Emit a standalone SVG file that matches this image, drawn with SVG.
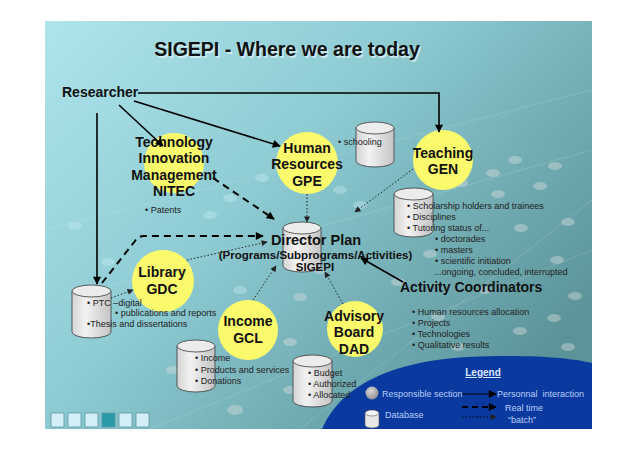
<svg xmlns="http://www.w3.org/2000/svg" width="638" height="451" viewBox="0 0 638 451">
<defs>
<linearGradient id="bg" x1="0" y1="0" x2="1" y2="0.7">
<stop offset="0" stop-color="#afe4eb"/>
<stop offset="0.45" stop-color="#8ecbd3"/>
<stop offset="1" stop-color="#5b9399"/>
</linearGradient>
<linearGradient id="cyl" x1="0" y1="0" x2="1" y2="0">
<stop offset="0" stop-color="#d4d4d4"/>
<stop offset="0.35" stop-color="#f2f2f2"/>
<stop offset="1" stop-color="#c4c4c4"/>
</linearGradient>
<radialGradient id="gdot" cx="0.4" cy="0.35" r="0.7">
<stop offset="0" stop-color="#d8d8d8"/>
<stop offset="1" stop-color="#8e8e8e"/>
</radialGradient>
<marker id="ah" viewBox="0 0 10 10" refX="9" refY="5" markerWidth="9" markerHeight="8" orient="auto" markerUnits="userSpaceOnUse">
<path d="M0,0 L10,5 L0,10 z" fill="#000"/>
</marker>
<marker id="ahs" viewBox="0 0 10 10" refX="9" refY="5" markerWidth="7" markerHeight="6" orient="auto" markerUnits="userSpaceOnUse">
<path d="M0,0 L10,5 L0,10 z" fill="#222"/>
</marker>
<style>
text{font-family:"Liberation Sans",Arial,sans-serif;fill:#111}
.lbl{font-size:14px;font-weight:bold;text-anchor:middle}
.sm{font-size:9px;fill:#222}
.yc{fill:#fbfa6c}
.cb{fill:url(#cyl);stroke:#3a3a3a;stroke-width:0.8}
.ct{fill:#ececec;stroke:#3a3a3a;stroke-width:0.8}
.solid{fill:none;stroke:#000;stroke-width:1.6;marker-end:url(#ah)}
.dash{fill:none;stroke:#000;stroke-width:2;stroke-dasharray:7,5;marker-end:url(#ah)}
.dot{fill:none;stroke:#222;stroke-width:1;stroke-dasharray:1.5,2;marker-end:url(#ahs)}
.deco{fill:#d9dede;opacity:0.42}
.decob{fill:#c6eef2;opacity:0.4}
.lg{font-size:9px;fill:#b9cdf5}
.nav{fill:#d4eef8;stroke:#5a9aa8;stroke-width:0.8}
</style>
</defs>

<rect x="0" y="0" width="638" height="451" fill="#fff"/>
<rect x="45" y="21" width="547" height="408" fill="url(#bg)"/>

<g id="decoration" stroke="none">
<g stroke="#e8f6f8" stroke-width="0.8" opacity="0.2" fill="none">
<path d="M60,300 L592,150"/>
<path d="M150,429 L592,250"/>
<path d="M45,230 L592,90"/>
<path d="M300,429 L592,200"/>
</g>
<ellipse class="decob" cx="108" cy="262" rx="7" ry="4"/>
<ellipse class="decob" cx="75" cy="226" rx="7" ry="4"/>
<ellipse class="decob" cx="210" cy="215" rx="7" ry="4"/>
<ellipse class="decob" cx="240" cy="290" rx="7" ry="4"/>
<ellipse class="decob" cx="262" cy="178" rx="7" ry="4"/>
<ellipse class="decob" cx="230" cy="198" rx="7" ry="4"/>
<ellipse class="decob" cx="340" cy="190" rx="7" ry="4"/>
<ellipse class="decob" cx="360" cy="205" rx="7" ry="4"/>
<ellipse class="deco" cx="300" cy="297" rx="7" ry="4"/>
<ellipse class="deco" cx="320" cy="270" rx="7" ry="4"/>
<ellipse class="deco" cx="430" cy="254" rx="7" ry="4"/>
<ellipse class="deco" cx="398" cy="282" rx="7" ry="4"/>
<ellipse class="deco" cx="461" cy="183" rx="7" ry="4"/>
<ellipse class="deco" cx="493" cy="173" rx="7" ry="4"/>
<ellipse class="deco" cx="515" cy="160" rx="7" ry="4"/>
<ellipse class="deco" cx="555" cy="166" rx="7" ry="4"/>
<ellipse class="deco" cx="540" cy="186" rx="7" ry="4"/>
<ellipse class="deco" cx="498" cy="194" rx="7" ry="4"/>
<ellipse class="deco" cx="521" cy="228" rx="7" ry="4"/>
<ellipse class="deco" cx="568" cy="222" rx="7" ry="4"/>
<ellipse class="deco" cx="557" cy="260" rx="7" ry="4"/>
<ellipse class="deco" cx="575" cy="296" rx="7" ry="4"/>
<ellipse class="deco" cx="554" cy="318" rx="7" ry="4"/>
<ellipse class="deco" cx="520" cy="331" rx="7" ry="4"/>
<ellipse class="deco" cx="568" cy="347" rx="7" ry="4"/>
<ellipse class="deco" cx="458" cy="347" rx="7" ry="4"/>
<ellipse class="deco" cx="438" cy="317" rx="7" ry="4"/>
<ellipse class="deco" cx="485" cy="290" rx="7" ry="4"/>
<ellipse class="deco" cx="290" cy="342" rx="7" ry="4"/>
<ellipse class="deco" cx="235" cy="410" rx="8" ry="5"/>
<ellipse class="deco" cx="290" cy="390" rx="7" ry="4"/>
<ellipse class="deco" cx="173" cy="370" rx="7" ry="4"/>
</g>

<g id="title">
<text x="288.5" y="57.5" font-size="19.5" font-weight="bold" text-anchor="middle" style="fill:#e6f6f8;opacity:0.7">SIGEPI - Where we are today</text>
<text x="287" y="56" font-size="19.5" font-weight="bold" text-anchor="middle">SIGEPI - Where we are today</text>
</g>

<g id="researcher">
<text x="62" y="97" font-size="14" font-weight="bold">Researcher</text>
</g>

<g id="legend-area">
<path d="M322,429 C338,392 380,362 468,357 C530,354 572,358 592,363 L592,429 Z" fill="#0a3aa0"/>
</g>

<g id="tech">
<circle class="yc" cx="174" cy="163" r="30"/>
<text class="lbl" x="174" y="147">Technology</text>
<text class="lbl" x="174" y="163">Innovation</text>
<text class="lbl" x="174" y="180">Management</text>
<text class="lbl" x="174" y="196">NITEC</text>
<text class="sm" x="145" y="213">• Patents</text>
</g>

<g id="hr">
<circle class="yc" cx="307" cy="163" r="31"/>
<text class="lbl" x="307" y="153">Human</text>
<text class="lbl" x="307" y="169">Resources</text>
<text class="lbl" x="307" y="186">GPE</text>
</g>

<g id="db-schooling">
<path class="cb" d="M356,128 V161 A19,6 0 0 0 394,161 V128 Z"/>
<ellipse class="ct" cx="375" cy="128" rx="19" ry="6"/>
<text class="sm" x="338" y="145">• schooling</text>
</g>

<g id="teaching">
<circle class="yc" cx="443" cy="160" r="30"/>
<text class="lbl" x="443" y="158">Teaching</text>
<text class="lbl" x="443" y="174">GEN</text>
</g>

<g id="db-scholarship">
<path class="cb" d="M394,194 V231 A19.5,6 0 0 0 433,231 V194 Z"/>
<ellipse class="ct" cx="413.5" cy="194" rx="19.5" ry="6"/>
<text class="sm" x="407" y="209">• Scholarship holders and trainees</text>
<text class="sm" x="407" y="220">• Disciplines</text>
<text class="sm" x="407" y="231">• Tutoring status of...</text>
<text class="sm" x="435" y="242">• doctorades</text>
<text class="sm" x="435" y="253">• masters</text>
<text class="sm" x="435" y="264">• scientific initiation</text>
<text class="sm" x="434" y="275">...ongoing, concluded, interrupted</text>
</g>

<g id="director">
<path class="cb" d="M283,228 V266 A19,6 0 0 0 321,266 V228 Z"/>
<ellipse class="ct" cx="302" cy="228" rx="19" ry="6"/>
<text x="316" y="245" font-size="14.5" font-weight="bold" text-anchor="middle">Director Plan</text>
<text x="315.5" y="259" font-size="11.5" font-weight="bold" text-anchor="middle">(Programs/Subprograms/Activities)</text>
<text x="315" y="271" font-size="11.5" font-weight="bold" text-anchor="middle">SIGEPI</text>
</g>

<g id="activity">
<text x="400" y="292" font-size="14" font-weight="bold">Activity Coordinators</text>
<text class="sm" x="412" y="315">• Human resources allocation</text>
<text class="sm" x="412" y="326">• Projects</text>
<text class="sm" x="412" y="337">• Technologies</text>
<text class="sm" x="412" y="348">• Qualitative results</text>
</g>

<g id="library">
<circle class="yc" cx="163" cy="281" r="31"/>
<text class="lbl" x="162" y="277">Library</text>
<text class="lbl" x="162" y="294">GDC</text>
</g>

<g id="db-ptc">
<path class="cb" d="M72,291 V332 A19.5,6 0 0 0 111,332 V291 Z"/>
<ellipse class="ct" cx="91.5" cy="291" rx="19.5" ry="6"/>
<text class="sm" x="87" y="306">• PTC –digital</text>
<text class="sm" x="115" y="316">• publications and reports</text>
<text class="sm" x="87" y="327">•Thesis and dissertations</text>
</g>

<g id="income">
<circle class="yc" cx="248" cy="330" r="30"/>
<text class="lbl" x="248" y="326">Income</text>
<text class="lbl" x="248" y="343">GCL</text>
</g>

<g id="advisory">
<circle class="yc" cx="355" cy="329" r="28"/>
<text class="lbl" x="354" y="321">Advisory</text>
<text class="lbl" x="354" y="337">Board</text>
<text class="lbl" x="354" y="354">DAD</text>
</g>

<g id="db-income">
<path class="cb" d="M177,346 V386 A19,6 0 0 0 215,386 V346 Z"/>
<ellipse class="ct" cx="196" cy="346" rx="19" ry="6"/>
<text class="sm" x="195" y="361">• Income</text>
<text class="sm" x="195" y="373">• Products and services</text>
<text class="sm" x="195" y="384">• Donations</text>
</g>

<g id="db-budget">
<path class="cb" d="M293,361 V401 A19.5,6 0 0 0 332,401 V361 Z"/>
<ellipse class="ct" cx="312.5" cy="361" rx="19.5" ry="6"/>
<text class="sm" x="308" y="376">• Budget</text>
<text class="sm" x="308" y="387">• Authorized</text>
<text class="sm" x="308" y="398">• Allocated</text>
</g>

<g id="connectors">
<path class="solid" d="M138,93 H439 V132"/>
<path class="solid" d="M134,101 L280,146"/>
<path class="solid" d="M119,105 L163,146"/>
<path class="solid" d="M97,113 V284"/>
<path class="solid" d="M403,282 L361,258"/>
<path class="dash" d="M213,178 L274,219"/>
<path class="dash" d="M102,283 L135,241 Q138,236 144,236 L263,236"/>
<path class="dot" d="M307,194 V222"/>
<path class="dot" d="M413,169 L355,212"/>
<path class="dot" d="M187,260 L267,242"/>
<path class="dot" d="M111,298 L133,290"/>
<path class="dot" d="M253,300 L276,266"/>
<path class="dot" d="M343,304 L325,272"/>
</g>

<g id="legend">
<text x="483" y="376" font-size="10" font-weight="bold" text-anchor="middle" text-decoration="underline" style="fill:#dbe6ff">Legend</text>
<circle cx="372" cy="393" r="6.5" fill="url(#gdot)"/>
<text class="lg" x="382" y="397">Responsible section</text>
<path class="solid" d="M462,394 H496" style="stroke-width:1"/>
<text class="lg" x="497" y="397" xml:space="preserve">Personnal  interaction</text>
<path class="dash" d="M462,407 H496" style="stroke-width:2;stroke-dasharray:6,4"/>
<text class="lg" x="505" y="411">Real time</text>
<path class="dot" d="M462,417 H496" style="stroke:#000"/>
<text class="lg" x="508" y="423">“batch”</text>
<path d="M365,413 V425 A7,3 0 0 0 379,425 V413 Z" fill="#e8e8e8" stroke="#555" stroke-width="0.6"/>
<ellipse cx="372" cy="413" rx="7" ry="3" fill="#f4f4f4" stroke="#555" stroke-width="0.6"/>
<text class="lg" x="385" y="418">Database</text>
</g>

<g id="nav">
<rect class="nav" x="51" y="413" width="13" height="14"/>
<rect class="nav" x="68" y="413" width="13" height="14"/>
<rect class="nav" x="85" y="413" width="13" height="14"/>
<rect class="nav" x="102" y="413" width="13" height="14" style="fill:#2a9aa6"/>
<rect class="nav" x="119" y="413" width="13" height="14"/>
<rect class="nav" x="136" y="413" width="13" height="14"/>
</g>
</svg>
